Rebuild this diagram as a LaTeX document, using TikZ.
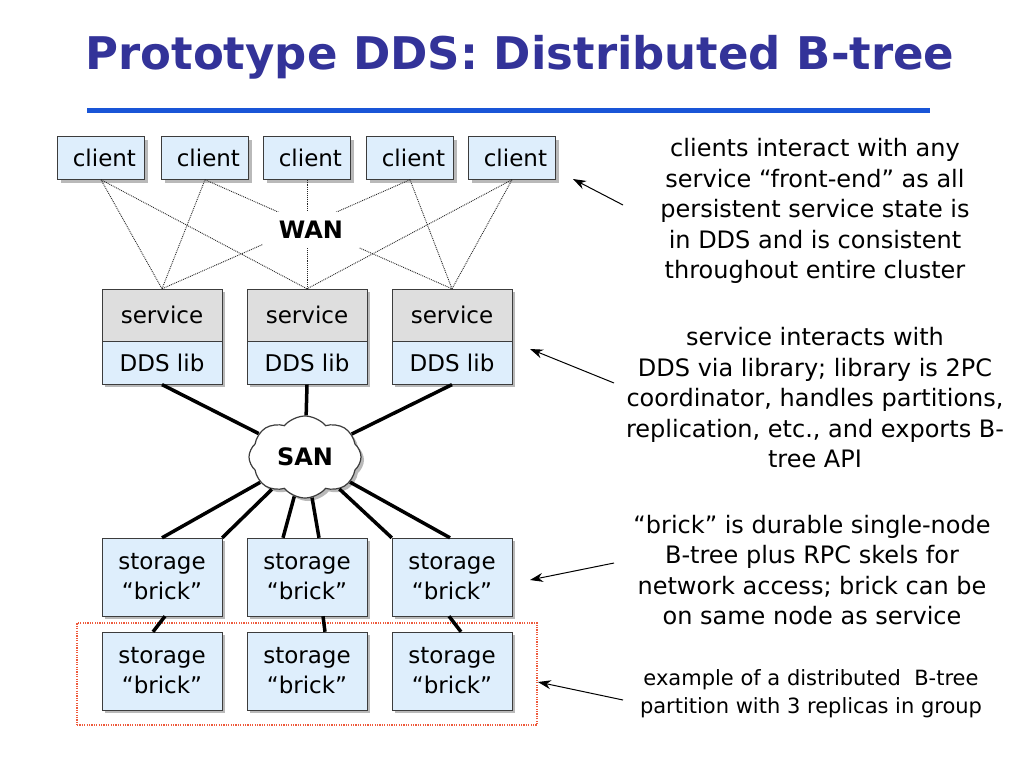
\documentclass[tikz,border=0pt]{standalone}
\usepackage{fontspec}
\setmainfont{DejaVu Sans}
\usetikzlibrary{positioning,shapes.symbols,shadows,arrows.meta,calc}

\definecolor{boxblue}{RGB}{222,238,252}
\definecolor{boxgray}{RGB}{222,222,222}
\definecolor{boxline}{RGB}{60,60,60}
\definecolor{titleblue}{RGB}{51,51,153}
\definecolor{rulerblue}{RGB}{25,85,215}
\definecolor{groupred}{RGB}{238,90,60}

\tikzset{
  shadowed/.style={drop shadow={shadow xshift=3pt,shadow yshift=-3pt,fill=gray!55,opacity=1}},
  clientbox/.style={draw=boxline,fill=boxblue,shadowed,minimum height=43pt,text width=70pt,align=right,inner xsep=8.5pt,font=\fontsize{23}{28}\selectfont},
  svcbox/.style={draw=boxline,fill=boxgray,shadowed,minimum width=120pt,minimum height=52pt,font=\fontsize{23}{28}\selectfont},
  libbox/.style={draw=boxline,fill=boxblue,shadowed,minimum width=120pt,minimum height=43pt,font=\fontsize{23}{28}\selectfont},
  brickbox/.style={draw=boxline,fill=boxblue,shadowed,minimum width=120pt,minimum height=78pt,align=center,font=\fontsize{23}{30}\selectfont},
  wanlink/.style={densely dotted,draw=black!85,line width=0.9pt},
  sanlink/.style={line width=3.5pt},
  note/.style={align=center,font=\fontsize{24}{30.5}\selectfont},
  pointer/.style={-{Stealth[length=13pt,width=9pt]},line width=1pt},
}

\begin{document}
\begin{tikzpicture}[x=1pt,y=-1pt]
\useasboundingbox[fill=white] (0,0) rectangle (1024,768);

% title and rule
\node[font=\bfseries\fontsize{45}{50}\selectfont,text=titleblue] (title) at (520,57) {Prototype DDS: Distributed B-tree};
\coordinate (ruleL) at (87,110);
\coordinate (ruleR) at (930,110);
\draw[rulerblue,line width=5pt] (ruleL) -- (ruleR);

% partition group
\node[draw=groupred,dash pattern=on 1.2pt off 1.2pt,line width=1.3pt,minimum width=460pt,minimum height=102pt] (grp) at (307,674) {};

% clients
\foreach \n/\x in {1/101,2/205,3/307,4/410,5/512}
    \node[clientbox] (c\n) at (\x,158) {client};

% services, libs and bricks
\foreach \n/\x in {1/162,2/307,3/452}{
    \node[svcbox] (s\n) at (\x,315) {service};
    \node[libbox,below=0pt of s\n] (l\n) {DDS lib};
    \node[brickbox] (b\n) at (\x,577) {storage\\“brick”};
}
\foreach \n/\x in {4/162,5/307,6/452}
    \node[brickbox] (b\n) at (\x,671) {storage\\“brick”};

% WAN
\foreach \c/\s in {1/1,1/2,2/1,2/3,3/2,4/1,4/3,5/2,5/3}
    \draw[wanlink] (c\c.south) -- (s\s.north);
\node[fill=white,minimum width=96pt,minimum height=36pt,font=\bfseries\fontsize{24}{28}\selectfont] (wan) at (311,230) {WAN};

% SAN
\node[cloud,cloud puffs=8,cloud puff arc=100,aspect=1.35,draw=boxline,line width=1.2pt,fill=white,shadowed,minimum width=112pt,minimum height=82pt,font=\bfseries\fontsize{24}{28}\selectfont] (san) at (305,457) {SAN};
\foreach \n in {1,2,3}
    \draw[sanlink] (l\n.south) -- (san);
\draw[sanlink] (san) -- (b1.north);
\draw[sanlink] (san) -- (b1.north east);
\draw[sanlink] (san) -- ($(b2.north)+(-24,0)$);
\draw[sanlink] (san) -- ($(b2.north)+(12,0)$);
\draw[sanlink] (san) -- (b3.north west);
\draw[sanlink] (san) -- ($(b3.north)+(-2,0)$);
\draw[sanlink] ($(b1.south)+(3,0)$) -- ($(b4.north)+(-9,0)$);
\draw[sanlink] ($(b2.south)+(16,0)$) -- ($(b5.north)+(18,0)$);
\draw[sanlink] ($(b3.south)+(-3,0)$) -- ($(b6.north)+(9,0)$);

% notes
\node[note] (n1) at (815,211) {clients interact with any\\service “front-end” as all\\persistent service state is\\in DDS and is consistent\\throughout entire cluster};
\node[note] (n2) at (815,398) {service interacts with\\DDS via library; library is 2PC\\coordinator, handles partitions,\\replication, etc., and exports B-\\tree API};
\node[note] (n3) at (812,570) {“brick” is durable single-node\\B-tree plus RPC skels for\\network access; brick can be\\on same node as service};
\node[note,font=\fontsize{21}{28}\selectfont] (n4) at (811,694) {example of a distributed~~B-tree\\partition with 3 replicas in group};

\coordinate (t1) at (623,205); \coordinate (h1) at (573,179);
\coordinate (t2) at (614,383); \coordinate (h2) at (530,349);
\coordinate (t3) at (614,563); \coordinate (h3) at (530,580);
\coordinate (t4) at (623,700); \coordinate (h4) at (538,682);
\foreach \i in {1,...,4}
    \draw[pointer] (t\i) -- (h\i);
\end{tikzpicture}
\end{document}
